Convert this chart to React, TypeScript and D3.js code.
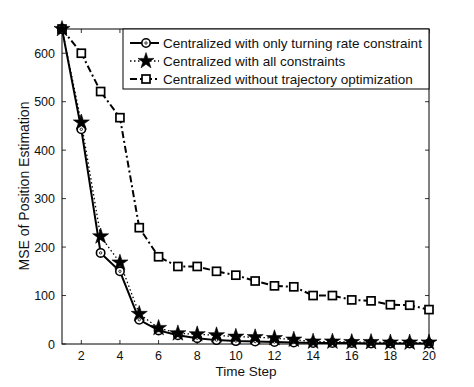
import React from "react";
import * as d3 from "d3";

const steps = [1,2,3,4,5,6,7,8,9,10,11,12,13,14,15,16,17,18,19,20];
const turningOnly = [650,443,188,150,50,28,18,12,8,6,5,4,3,2,2,2,1,1,1,1];
const allConstraints = [650,457,222,168,62,33,22,20,18,15,14,12,9,5,5,4,4,3,3,3];
const noTrajOpt = [650,600,521,467,240,180,160,160,150,142,130,120,118,100,100,91,89,81,80,71];
const xTicks = [2,4,6,8,10,12,14,16,18,20];
const yTicks = [0,100,200,300,400,500,600];
const seriesNames = [
  "Centralized with only turning rate constraint",
  "Centralized with all constraints",
  "Centralized without trajectory optimization",
];

const W = 474, H = 387;
const L = 62, R = 429, T = 29, B = 344;
const FONT = "'Liberation Sans', Arial, Helvetica, sans-serif";

export default function App() {
  const x = d3.scaleLinear().domain([1, 20]).range([L, R]);
  const y = d3.scaleLinear().domain([0, 650]).range([B, T]);
  const line = d3.line<number>().x((_, i) => x(steps[i])).y((d) => y(d));
  const star = d3.symbol().type(d3.symbolStar).size(80)() as string;

  const circleMark = (cx: number, cy: number, k: string) => (
    <g key={k}>
      <circle cx={cx} cy={cy} r={4.2} fill="white" stroke="black" strokeWidth={1.6} />
      <circle cx={cx} cy={cy} r={1.2} fill="none" stroke="black" strokeWidth={0.8} />
    </g>
  );
  const squareMark = (cx: number, cy: number, k: string) => (
    <rect key={k} x={cx - 4} y={cy - 4} width={8} height={8} fill="white" stroke="black" strokeWidth={1.7} />
  );
  const starMark = (cx: number, cy: number, k: string) => (
    <path key={k} d={star} transform={`translate(${cx},${cy})`} fill="black" stroke="black" strokeWidth={0.6} />
  );

  const legX = 123, legY = T, legW = R - 123, legH = 60;
  const rows = [legY + 14, legY + 32, legY + 50];

  return (
    <svg width={W} height={H} style={{ position: "absolute", left: 0, top: 0, background: "white" }} fontFamily={FONT}>
      <rect x={0} y={0} width={W} height={H} fill="white" />
      <rect x={L} y={T} width={R - L} height={B - T} fill="none" stroke="black" strokeWidth={1} />
      {xTicks.map((t) => (
        <g key={"xt" + t}>
          <line x1={x(t)} x2={x(t)} y1={B} y2={B - 4} stroke="black" strokeWidth={0.8} />
          <line x1={x(t)} x2={x(t)} y1={T} y2={T + 4} stroke="black" strokeWidth={0.8} />
          <text x={x(t)} y={B + 16} fontSize={12.5} textAnchor="middle" fill="#111">{t}</text>
        </g>
      ))}
      {yTicks.map((t) => (
        <g key={"yt" + t}>
          <line x1={L} x2={L + 4} y1={y(t)} y2={y(t)} stroke="black" strokeWidth={0.8} />
          <line x1={R} x2={R - 4} y1={y(t)} y2={y(t)} stroke="black" strokeWidth={0.8} />
          <text x={L - 7} y={y(t) + 4.5} fontSize={12.5} textAnchor="end" fill="#111">{t}</text>
        </g>
      ))}
      <text x={246} y={376} fontSize={13.5} textAnchor="middle" fill="#111">Time Step</text>
      <text transform={`translate(29,${186}) rotate(-90)`} fontSize={14} textAnchor="middle" fill="#111">MSE of Position Estimation</text>

      <path d={line(noTrajOpt) as string} fill="none" stroke="black" strokeWidth={2} strokeDasharray="7,3,2,3" />
      <path d={line(allConstraints) as string} fill="none" stroke="black" strokeWidth={1.3} strokeDasharray="1.5,2.5" />
      <path d={line(turningOnly) as string} fill="none" stroke="black" strokeWidth={2} />
      {noTrajOpt.map((v, i) => squareMark(x(steps[i]), y(v), "s" + i))}
      {turningOnly.map((v, i) => circleMark(x(steps[i]), y(v), "c" + i))}
      {allConstraints.map((v, i) => starMark(x(steps[i]), y(v), "a" + i))}

      <rect x={legX} y={legY} width={legW} height={legH} fill="white" stroke="black" strokeWidth={1} />
      {rows.map((ry, i) => (
        <g key={"leg" + i}>
          <line x1={legX + 7} x2={legX + 36} y1={ry} y2={ry} stroke="black"
            strokeWidth={i === 1 ? 1.3 : 2}
            strokeDasharray={i === 0 ? undefined : i === 1 ? "1.5,2.5" : "7,3,2,3"} />
          {i === 0 && circleMark(legX + 23, ry, "lc")}
          {i === 1 && starMark(legX + 23, ry, "ls")}
          {i === 2 && squareMark(legX + 23, ry, "lsq")}
          <text x={legX + 40} y={ry + 5} fontSize={13.5} fill="#111">{seriesNames[i]}</text>
        </g>
      ))}
    </svg>
  );
}
